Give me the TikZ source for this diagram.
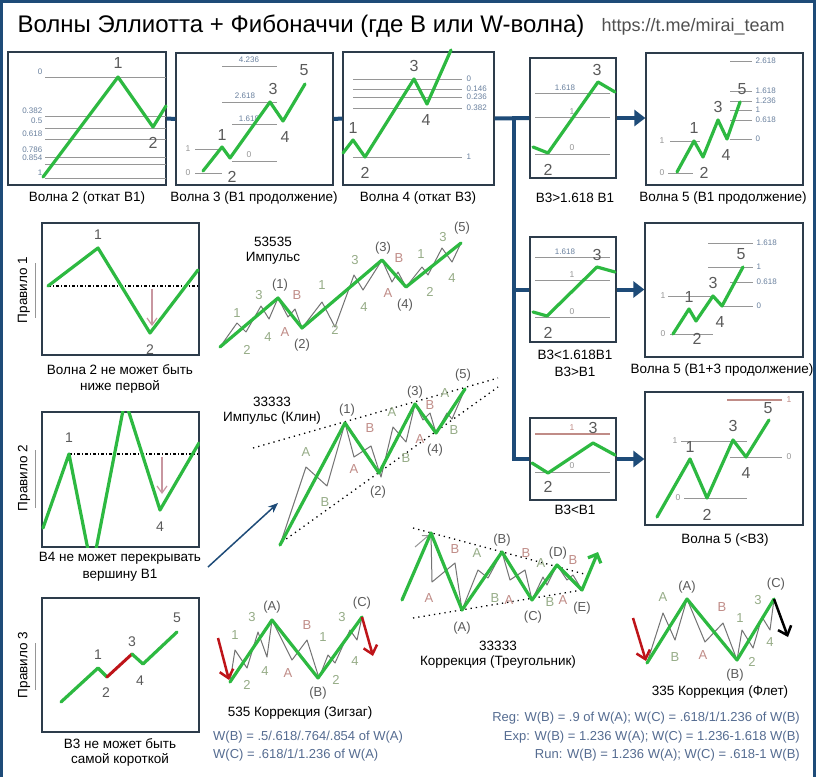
\documentclass[tikz,border=0pt]{standalone}
\usepackage{fontspec}
\setmainfont{Liberation Sans}
\usepackage{tikz}
\usetikzlibrary{arrows.meta}
\usetikzlibrary{positioning}
\usepackage{xcolor}

\definecolor{linkblue}{RGB}{30,75,120}
\definecolor{wgreen}{RGB}{45,185,65}
\definecolor{boxc}{RGB}{45,60,75}
\definecolor{fibc}{RGB}{150,150,150}
\definecolor{fibtxt}{RGB}{105,128,158}
\definecolor{numc}{RGB}{90,90,90}
\definecolor{subc}{RGB}{115,115,115}
\definecolor{lgc}{RGB}{150,172,135}
\definecolor{lpc}{RGB}{192,140,135}
\definecolor{redc}{RGB}{190,20,25}
\definecolor{pinkc}{RGB}{200,150,160}
\definecolor{frmc}{RGB}{85,108,145}
\definecolor{urlc}{RGB}{80,80,80}

\tikzset{
  panel/.style={draw=boxc, line width=1.3pt, inner sep=0pt},
  wave/.style={wgreen, line width=3.2pt, line join=round, line cap=round},
  subw/.style={subc, line width=1pt, line join=round},
  fib/.style={fibc, line width=0.8pt},
  flab/.style={text=fibtxt, font=\fontsize{8}{8}\selectfont, inner sep=0.5pt},
  glab/.style={text=fibc, font=\fontsize{8.5}{8.5}\selectfont, inner sep=0.5pt},
  num/.style={text=numc, font=\fontsize{16}{16}\selectfont, inner sep=0pt},
  pnum/.style={text=numc, font=\fontsize{13}{13}\selectfont, inner sep=0pt},
  lg/.style={text=lgc, font=\fontsize{13}{13}\selectfont, inner sep=0pt},
  lp/.style={text=lpc, font=\fontsize{13}{13}\selectfont, inner sep=0pt},
  capt/.style={font=\fontsize{13.5}{13.5}\selectfont, inner sep=0pt},
  frm/.style={text=frmc, font=\fontsize{13}{13}\selectfont, inner sep=0pt},
  linkln/.style={linkblue, line width=4pt},
  tip/.style={-{Triangle[length=11pt,width=16pt]}},
  rulel/.style={capt, rotate=90},
  level/.style={black, line width=1.2pt, dash pattern=on 3pt off 2pt on 1pt off 2pt},
  dotl/.style={black, line width=1.3pt, dash pattern=on 1.3pt off 4pt},
}

\begin{document}
\begin{tikzpicture}[x=1pt,y=-1pt]
\useasboundingbox (0,0) rectangle (816,776);
\fill[white] (0,0) rectangle (816,776);
\draw[linkblue, line width=6pt] (0,0) rectangle (816,800);

% title
\node[anchor=west, font=\fontsize{24}{24}\selectfont] (title) at (14,26) {Волны Эллиотта + Фибоначчи (где В или W-волна)};
\node[anchor=west, text=urlc, font=\fontsize{18}{18}\selectfont] (url) at (598,27) {https://t.me/mirai\_team};

% top row
\node[panel, minimum width=158pt, minimum height=133pt] (w2) at (87,118.5) {};
\node[panel, minimum width=157pt, minimum height=132pt] (w3) at (254.5,119) {};
\node[panel, minimum width=151pt, minimum height=133pt] (w4) at (418.5,118.5) {};
\draw[linkln] (w2.east) -- (w3.west);
\draw[linkln] (w3.east) -- (w4.west);

% wave 2
\foreach \yy/\lab/\ly [count=\i] in {77/0/72, 116/0.382/111, 128/0.5/121, 139/0.618/134, 157/0.786/150, 164/0.854/158, 178/1/173} {
  \draw[fib] (45,\yy) -- (166,\yy);
  \node[flab, anchor=east] (f2-\i) at (43,\ly) {\lab};
}
\draw[wave] (43,177) -- (118,77) -- (153,127) -- (166,106);
\node[num] (w2-1) at (118,63) {1};
\node[num] (w2-2) at (153,143) {2};
\node[capt] (c-w2) at (87,198) {Волна 2 (откат В1)};

% wave 3
\draw[fib] (222,66) -- (277,66);   \node[flab] (f3-a) at (249,60) {4.236};
\draw[fib] (222,102) -- (277,102); \node[flab] (f3-b) at (245,96) {2.618};
\draw[fib] (232,124) -- (277,124); \node[flab] (f3-c) at (249,119) {1.618};
\draw[fib] (195,149) -- (222,149); \node[glab] (f3-d) at (188,149) {1};
\draw[fib] (232,161) -- (277,161); \node[glab] (f3-e) at (249,155) {0};
\draw[fib] (195,173) -- (222,173); \node[glab] (f3-f) at (188,173) {0};
\draw[wave] (203,171) -- (222,147) -- (230,158) -- (270,102) -- (283,121) -- (305,84);
\foreach \x/\y/\t [count=\i] in {222/135/1, 232/177/2, 273/89/3, 285/137/4, 304/70/5}
  \node[num] (w3-\i) at (\x,\y) {\t};
\node[capt] (c-w3) at (254,198) {Волна 3 (В1 продолжение)};

% wave 4
\foreach \yy/\lab [count=\i] in {79/0, 89/0.146, 97/0.236, 108/0.382, 157/1} {
  \draw[fib] (353,\yy) -- (462,\yy);
  \node[flab, anchor=west] (f4-\i) at (466,\yy) {\lab};
}
\draw[wave] (343,153) -- (353,140) -- (365,157) -- (414,79) -- (427,104) -- (451,50);
\foreach \x/\y/\t [count=\i] in {353/128/1, 365/173/2, 414/66/3, 426/120/4}
  \node[num] (w4-\i) at (\x,\y) {\t};
\node[capt] (c-w4) at (418,198) {Волна 4 (откат В3)};

% branches
\node[panel, minimum width=86pt, minimum height=120pt] (r1) at (573,118) {};
\node[panel, minimum width=86pt, minimum height=105pt] (r2) at (573,289.5) {};
\node[panel, minimum width=86pt, minimum height=82pt] (r3) at (573,459) {};
\coordinate (jn) at (514,118);
\draw[linkln] (w4.east) -- (r1.west);
\draw[linkln] (jn) |- (r2.west);
\draw[linkln] (jn) |- (r3.west);

\node[panel, minimum width=157pt, minimum height=132pt] (v5a) at (724.5,119) {};
\node[panel, minimum width=158pt, minimum height=134pt] (v5b) at (724,290) {};
\node[panel, minimum width=158pt, minimum height=133pt] (v5c) at (724,458.5) {};
\draw[linkln, tip] (r1.east) -- (r1.east -| v5a.west);
\draw[linkln, tip] (r2.east) -- (r2.east -| v5b.west);
\draw[linkln, tip] (r3.east) -- (r3.east -| v5c.west);

% B3 > 1.618 B1
\draw[fib] (535,93) -- (610,93);   \node[flab] (g1-a) at (565,88) {1.618};
\draw[fib] (535,117) -- (610,117); \node[glab] (g1-b) at (572,112) {1};
\draw[fib] (535,154) -- (610,154); \node[glab] (g1-c) at (572,148) {0};
\draw[wave] (533,147) -- (548,153) -- (598,82) -- (615,92);
\node[num] (g1-2) at (548,170) {2};
\node[num] (g1-3) at (597,70) {3};
\node[capt] (c-r1) at (575,198) {В3>1.618 В1};

% B3 < 1.618 B1
\draw[fib] (535,257) -- (610,257); \node[flab] (g2-a) at (565,252) {1.618};
\draw[fib] (535,280) -- (610,280); \node[glab] (g2-b) at (572,275) {1};
\draw[fib] (535,317) -- (610,317); \node[glab] (g2-c) at (572,312) {0};
\draw[wave] (533,312) -- (547,316) -- (597,267) -- (615,272);
\node[num] (g2-2) at (548,333) {2};
\node[num] (g2-3) at (597,255) {3};
\node[capt] (c-r2) at (575,355) {В3<1.618В1};
\node[capt] (c-r2b) at (575,372) {В3>В1};

% B3 < B1
\draw[lpc, line width=1.2pt] (535,434) -- (610,434); \node[glab, text=lpc] (g3-a) at (572,428) {1};
\draw[fib] (535,472) -- (610,472); \node[glab] (g3-b) at (572,466) {0};
\draw[wave] (532,463) -- (548,473) -- (593,443) -- (615,455);
\node[num] (g3-2) at (548,487) {2};
\node[num] (g3-3) at (593,428) {3};
\node[capt] (c-r3) at (575,510) {В3<В1};

% wave 5 (B1)
\foreach \yy/\lab [count=\i] in {61/2.618, 91/1.618, 101/1.236, 110/1, 120/0.618, 139/0} {
  \draw[fib] (730,\yy) -- (752,\yy);
  \node[flab, anchor=west] (h1-\i) at (755,\yy) {\lab};
}
\draw[fib] (670,141) -- (700,141); \node[glab] (h1-l1) at (662,141) {1};
\draw[fib] (668,173) -- (693,173); \node[glab] (h1-l0) at (662,173) {0};
\draw[wave] (677,172) -- (694,141) -- (703,157) -- (718,120) -- (727,139) -- (740,102);
\foreach \x/\y/\t [count=\i] in {694/128/1, 704/173/2, 718/107/3, 726/155/4, 742/89/5}
  \node[num] (h1-n\i) at (\x,\y) {\t};
\node[capt] (c-v5a) at (723,198) {Волна 5 (В1 продолжение)};

% wave 5 (B1+3)
\foreach \yy/\lab/\xa [count=\i] in {243/1.618/708, 267/1/708, 282/0.618/730, 306/0/722} {
  \draw[fib] (\xa,\yy) -- (753,\yy);
  \node[flab, anchor=west] (h2-\i) at (756,\yy) {\lab};
}
\draw[fib] (668,296) -- (713,296); \node[glab] (h2-l1) at (663,296) {1};
\draw[fib] (670,334) -- (713,334); \node[glab] (h2-l0) at (663,334) {0};
\draw[wave] (673,334) -- (689,309) -- (696,321) -- (713,296) -- (722,306) -- (743,267);
\foreach \x/\y/\t [count=\i] in {689/297/1, 697/339/2, 713/283/3, 720/322/4, 741/254/5}
  \node[num] (h2-n\i) at (\x,\y) {\t};
\node[capt] (c-v5b) at (722,370) {Волна 5 (В1+3 продолжение)};

% wave 5 (<B3)
\draw[lpc, line width=1.2pt] (727,400) -- (782,400); \node[glab, text=lpc, anchor=west] (h3-r) at (786,400) {1};
\draw[fib] (681,441) -- (747,441); \node[glab] (h3-l1) at (675,441) {1};
\draw[fib] (730,457) -- (782,457); \node[glab, anchor=west] (h3-r0) at (786,457) {0};
\draw[fib] (684,498) -- (747,498); \node[glab] (h3-l0) at (678,498) {0};
\draw[wave] (657,517) -- (690,459) -- (707,498) -- (733,440) -- (746,457) -- (769,420);
\foreach \x/\y/\t [count=\i] in {690/447/1, 707/515/2, 733/426/3, 746/473/4, 768/408/5}
  \node[num] (h3-n\i) at (\x,\y) {\t};
\node[capt] (c-v5c) at (725,540) {Волна 5 (<В3)};

% rules
\node[panel, minimum width=157pt, minimum height=132pt] (rule1) at (120.5,289) {};
\node[panel, minimum width=157pt, minimum height=135pt] (rule2) at (120.5,479.5) {};
\node[panel, minimum width=157pt, minimum height=134pt] (rule3) at (120.5,665) {};
\node[rulel] (rl1) at (24,290) {Правило 1};
\node[rulel] (rl2) at (24,478) {Правило 2};
\node[rulel] (rl3) at (24,665) {Правило 3};
\draw[fibc, line width=0.8pt] (35,263) -- (35,318);
\draw[fibc, line width=0.8pt] (35,450) -- (35,508);
\draw[fibc, line width=0.8pt] (35,643) -- (35,690);

\draw[level] (48,286) -- (198,286);
\draw[wave] (48,286) -- (98,248) -- (150,333) -- (198,270);
\draw[pinkc, line width=1.2pt, -{Straight Barb[length=7pt,width=10pt]}] (152,289) -- (152,326);
\node[num, font=\fontsize{14}{14}\selectfont] (ru1-1) at (98,235) {1};
\node[num, font=\fontsize{14}{14}\selectfont] (ru1-2) at (150,350) {2};
\node[capt] (c-ru1) at (120,370) {Волна 2 не может быть};
\node[capt] (c-ru1b) at (120,387) {ниже первой};

\draw[level] (69,454) -- (198,454);
\begin{scope}
  \clip (rule2.south west) rectangle (rule2.north east);
  \draw[wave] (43,528) -- (69,454) -- (92,570) -- (125,400) -- (160,510) -- (199,443);
\end{scope}
\draw[pinkc, line width=1.2pt, -{Straight Barb[length=7pt,width=10pt]}] (162,457) -- (162,494);
\node[num, font=\fontsize{14}{14}\selectfont] (ru2-1) at (69,438) {1};
\node[num, font=\fontsize{14}{14}\selectfont] (ru2-4) at (160,527) {4};
\node[capt] (c-ru2) at (120,558) {В4 не может перекрывать};
\node[capt] (c-ru2b) at (120,575) {вершину В1};

\draw[wave] (61,702) -- (98,668) -- (107,677);
\draw[redc, line width=3pt, line cap=round] (107,677) -- (132,654);
\draw[wave] (132,654) -- (143,664) -- (177,632);
\foreach \x/\y/\t [count=\i] in {98/655/1, 106/693/2, 132/642/3, 140/681/4, 177/618/5}
  \node[num, font=\fontsize{14}{14}\selectfont] (ru3-\i) at (\x,\y) {\t};
\node[capt] (c-ru3) at (120,744) {В3 не может быть};
\node[capt] (c-ru3b) at (120,760) {самой короткой};

% impulse 53535
\node[capt] (imp-t) at (273,242) {53535};
\node[capt] (imp-tb) at (273,258) {Импульс};
\draw[subw] (220,347) -- (237,323) -- (246,332) -- (261,306) -- (269,319) -- (278,298) -- (288,317) -- (295,309) -- (302,328)
  -- (322,302) -- (335,327) -- (354,275) -- (363,290) -- (382,260) -- (392,282) -- (398,272) -- (406,287)
  -- (422,267) -- (428,275) -- (442,248) -- (452,262) -- (461,243);
\draw[wave] (220,347) -- (278,298) -- (302,328) -- (382,260) -- (406,287) -- (461,243);
\foreach \x/\y/\t [count=\i] in {280/285/(1), 302/345/(2), 383/248/(3), 405/305/(4), 462/228/(5)}
  \node[pnum] (imp-p\i) at (\x,\y) {\t};
\foreach \x/\y/\t [count=\i] in {237/313/1, 247/350/2, 259/295/3, 268/337/4, 322/285/1, 335/330/2, 355/260/3, 364/307/4, 421/254/1, 430/292/2, 443/237/3, 452/278/4}
  \node[lg] (imp-g\i) at (\x,\y) {\t};
\foreach \x/\y/\t [count=\i] in {297/295/B, 285/332/A, 399/258/B, 388/293/A}
  \node[lp] (imp-r\i) at (\x,\y) {\t};

% wedge 33333
\node[capt] (wdg-t) at (272,402) {33333};
\node[capt] (wdg-tb) at (272,418) {Импульс (Клин)};
\draw[dotl] (253,448) -- (498,378);
\draw[dotl] (282,542) -- (498,387);
\draw[subw] (280,545) -- (306,467) -- (327,486) -- (345,423) -- (354,457) -- (371,446) -- (381,477) -- (393,427)
  -- (406,442) -- (415,404) -- (423,420) -- (430,413) -- (436,433) -- (447,413) -- (452,419) -- (465,389);
\draw[wave] (280,545) -- (345,423) -- (379,473) -- (415,404) -- (436,433) -- (465,389);
\foreach \x/\y/\t [count=\i] in {347/410/(1), 378/492/(2), 415/392/(3), 435/450/(4), 463/375/(5)}
  \node[pnum] (wdg-p\i) at (\x,\y) {\t};
\foreach \x/\y/\t [count=\i] in {306/452/A, 325/502/B, 392/412/A, 406/458/B, 445/393/A, 454/430/B}
  \node[lg] (wdg-g\i) at (\x,\y) {\t};
\foreach \x/\y/\t [count=\i] in {370/428/B, 354/469/A, 430/405/B, 420/439/A}
  \node[lp] (wdg-r\i) at (\x,\y) {\t};
\coordinate (ar-s) at (208,567);
\coordinate (ar-e) at (278,503);
\draw[linkblue, line width=1.5pt, -{Stealth[length=10pt,width=8pt]}] (ar-s) -- (ar-e);

% triangle 33333
\node[capt] (tri-t) at (498,646) {33333};
\node[capt] (tri-tb) at (498,662) {Коррекция (Треугольник)};
\draw[dotl] (413,528) -- (588,575);
\draw[dotl] (413,618) -- (582,590);
\draw[fibc, line width=1pt, -{Straight Barb[length=5pt,width=8pt]}] (415,547) -- (429,535);
\draw[subw] (431,533) -- (432,582) -- (455,563) -- (462,610) -- (478,570) -- (488,578) -- (502,552) -- (510,580)
  -- (525,570) -- (532,600) -- (543,577) -- (547,585) -- (557,565) -- (567,580) -- (573,575) -- (582,590);
\draw[wave, -{Straight Barb[length=7pt,width=14pt]}] (402,600) -- (431,533) -- (462,610) -- (502,552) -- (532,600)
  -- (557,565) -- (582,590) -- (598,552);
\foreach \x/\y/\t [count=\i] in {462/628/(A), 502/540/(B), 533/617/(C), 558/553/(D), 582/608/(E)}
  \node[pnum] (tri-p\i) at (\x,\y) {\t};
\foreach \x/\y/\t [count=\i] in {477/553/A, 495/598/B, 541/563/A, 550/602/B}
  \node[lg] (tri-g\i) at (\x,\y) {\t};
\foreach \x/\y/\t [count=\i] in {429/598/A, 455/549/B, 509/600/A, 526/553/B, 573/560/B, 563/600/A}
  \node[lp] (tri-r\i) at (\x,\y) {\t};

% zigzag 535
\draw[subw] (230,682) -- (235,650) -- (247,668) -- (258,632) -- (267,657) -- (272,620) -- (292,660) -- (307,640)
  -- (319,678) -- (328,655) -- (335,663) -- (350,630) -- (357,640) -- (362,617);
\draw[wave] (230,682) -- (272,620) -- (318,678) -- (362,617);
\draw[redc, line width=2.5pt, -{Straight Barb[length=8pt,width=14pt]}] (218,638) -- (229,680);
\draw[redc, line width=2.5pt, -{Straight Barb[length=8pt,width=14pt]}] (362,617) -- (373,656);
\foreach \x/\y/\t [count=\i] in {272/607/(A), 318/693/(B), 362/603/(C)}
  \node[pnum] (zz-p\i) at (\x,\y) {\t};
\foreach \x/\y/\t [count=\i] in {235/635/1, 247/685/2, 252/617/3, 265/671/4, 323/637/1, 336/680/2, 342/617/3, 355/661/4}
  \node[lg] (zz-g\i) at (\x,\y) {\t};
\foreach \x/\y/\t [count=\i] in {288/673/A, 307/625/B}
  \node[lp] (zz-r\i) at (\x,\y) {\t};
\node[capt] (zz-t) at (300,713) {535 Коррекция (Зигзаг)};
\node[frm, anchor=west] (zz-f1) at (213,737) {W(B) = .5/.618/.764/.854 of W(A)};
\node[frm, anchor=west] (zz-f2) at (213,755) {W(C) = .618/1/1.236 of W(A)};

% flat 335
\draw[subw] (647,663) -- (663,613) -- (675,640) -- (687,599) -- (705,642) -- (723,623) -- (737,660) -- (742,630)
  -- (753,648) -- (762,617) -- (770,630) -- (774,599);
\draw[wave] (647,663) -- (687,599) -- (737,660) -- (774,599);
\draw[redc, line width=2.5pt, -{Straight Barb[length=8pt,width=14pt]}] (633,618) -- (646,661);
\draw[black, line width=2.5pt, -{Straight Barb[length=8pt,width=14pt]}] (774,599) -- (788,637);
\foreach \x/\y/\t [count=\i] in {687/587/(A), 735/675/(B), 776/584/(C)}
  \node[pnum] (fl-p\i) at (\x,\y) {\t};
\foreach \x/\y/\t [count=\i] in {663/597/A, 675/657/B, 740/618/1, 752/662/2, 758/600/3, 770/642/4}
  \node[lg] (fl-g\i) at (\x,\y) {\t};
\foreach \x/\y/\t [count=\i] in {703/655/A, 722/607/B}
  \node[lp] (fl-r\i) at (\x,\y) {\t};
\node[capt] (fl-t) at (720,692) {335 Коррекция (Флет)};
\node[frm, anchor=east] (fl-f1) at (800,718) {Reg: W(B) = .9 of W(A); W(C) = .618/1/1.236 of W(B)};
\node[frm, anchor=east] (fl-f2) at (800,737) {Exp: W(B) = 1.236 W(A); W(C) = 1.236-1.618 W(B)};
\node[frm, anchor=east] (fl-f3) at (800,755) {Run: W(B) = 1.236 W(A); W(C) = .618-1 W(B)};

\end{tikzpicture}
\end{document}
